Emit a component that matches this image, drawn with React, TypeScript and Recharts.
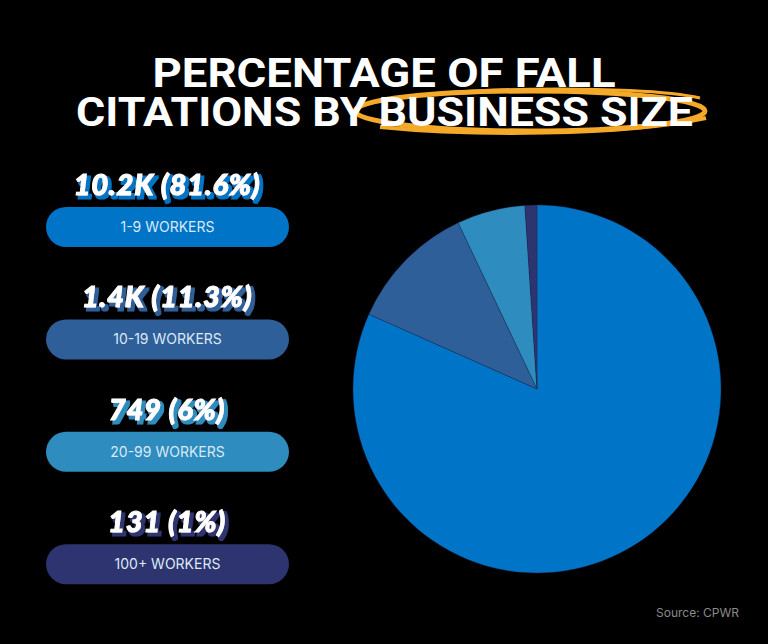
import React from "react";
import { PieChart, Pie, Cell } from "recharts";

const categories = ["1-9 WORKERS", "10-19 WORKERS", "20-99 WORKERS", "100+ WORKERS"];
const citations = [10200, 1410, 749, 131];
const valueLabels = ["10.2K (81.6%)", "1.4K (11.3%)", "749 (6%)", "131 (1%)"];
const colors = ["#0074C6", "#2F5F99", "#2E8CBE", "#2E3470"];
const titleLines = ["PERCENTAGE OF FALL", "CITATIONS BY BUSINESS SIZE"];
const sourceText = "Source: CPWR";

const data = categories.map((name, i) => ({ name, value: citations[i] }));

const W = 768;
const H = 644;

export default function App() {
  return (
    <div
      style={{
        position: "fixed",
        left: 0,
        top: 0,
        width: W,
        height: H,
        background: "#000",
        overflow: "hidden",
      }}
    >
      <div style={{ position: "absolute", left: 0, top: 0 }}>
        <PieChart width={W} height={H} margin={{ top: 0, right: 0, bottom: 0, left: 0 }}>
          <Pie
            data={data}
            dataKey="value"
            nameKey="name"
            cx={537}
            cy={389}
            outerRadius={184}
            startAngle={90}
            endAngle={-270}
            stroke="rgba(25,40,80,0.45)"
            strokeWidth={0.8}
            isAnimationActive={false}
            label={false}
            labelLine={false}
          >
            {data.map((d, i) => (
              <Cell key={d.name} fill={colors[i]} />
            ))}
          </Pie>
        </PieChart>
      </div>
      <svg
        width={W}
        height={H}
        style={{ position: "absolute", left: 0, top: 0, pointerEvents: "none" }}
      >
        <defs>
          {colors.map((c, i) => (
            <filter key={c} id={`shadow${i}`} x="-10%" y="-30%" width="130%" height="180%">
              <feMorphology in="SourceAlpha" operator="dilate" radius="1" result="thick" />
              <feOffset in="thick" dx="2.5" dy="2.5" result="off" />
              <feFlood floodColor={c} result="col" />
              <feComposite in="col" in2="off" operator="in" result="shadow" />
              <feMerge>
                <feMergeNode in="shadow" />
                <feMergeNode in="SourceGraphic" />
              </feMerge>
            </filter>
          ))}
        </defs>
        {/* orange hand-drawn circle */}
        <ellipse cx={530} cy={111} rx={175} ry={20} fill="none" stroke="#F5A928" strokeWidth={5} />
        <path
          d="M 365 105 C 420 86, 640 84, 700 98"
          fill="none"
          stroke="#F5A928"
          strokeWidth={3}
        />
        <path
          d="M 380 127 C 470 136, 620 136, 706 118"
          fill="none"
          stroke="#F5A928"
          strokeWidth={4}
        />
        {/* title */}
        <text
          x={384}
          y={87}
          textAnchor="middle"
          fill="#fff"
          fontFamily="Roboto, 'DejaVu Sans', sans-serif"
          fontWeight={700}
          fontSize={40}
          textLength={463}
          lengthAdjust="spacingAndGlyphs"
        >
          {titleLines[0]}
        </text>
        <text
          x={384.5}
          y={126}
          textAnchor="middle"
          fill="#fff"
          fontFamily="Roboto, 'DejaVu Sans', sans-serif"
          fontWeight={700}
          fontSize={40}
          textLength={617}
          lengthAdjust="spacingAndGlyphs"
        >
          {titleLines[1]}
        </text>
        {/* legend pills */}
        {categories.map((c, i) => {
          const top = 207 + i * 112.4;
          return (
            <g key={c}>
              <rect x={46} y={top} width={243} height={40} rx={20} ry={20} fill={colors[i]} />
              <text
                x={167.5}
                y={top + 25}
                textAnchor="middle"
                fill="#dbe9f6"
                fontFamily="Inter, Roboto, sans-serif"
                fontSize={14}
              >
                {c}
              </text>
              <text
                x={167}
                y={top - 12}
                textAnchor="middle"
                fill="#fff"
                stroke="#fff"
                strokeWidth={1}
                filter={`url(#shadow${i})`}
                fontFamily="Lato, 'Open Sans', sans-serif"
                fontStyle="italic"
                fontWeight={900}
                fontSize={29}
                letterSpacing={0.8}
              >
                {valueLabels[i]}
              </text>
            </g>
          );
        })}
        <text
          x={739}
          y={617}
          textAnchor="end"
          fill="#8a8a8a"
          fontFamily="Inter, Roboto, sans-serif"
          fontSize={12}
        >
          {sourceText}
        </text>
      </svg>
    </div>
  );
}
